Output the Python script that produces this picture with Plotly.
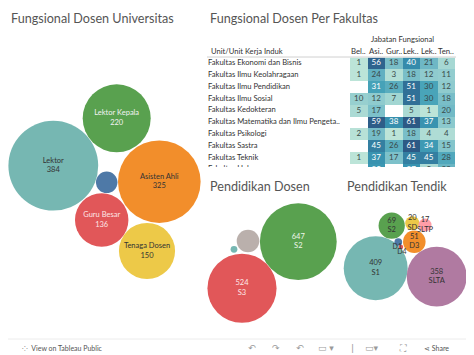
import plotly.graph_objects as go

W, H = 474, 355
OFF = 8  # page body margin of the html page

# ---------------- DATA ----------------
fungsional_labels = ["Lektor", "Lektor Kepala", "Asisten Ahli", "Belum Fungsional", "Guru Besar", "Tenaga Dosen"]
fungsional_values = [384, 220, 325, 22, 136, 150]
fungsional_show = [True, True, True, False, True, True]

fakultas_names = [
    "Fakultas Ekonomi dan Bisnis",
    "Fakultas Ilmu Keolahragaan",
    "Fakultas Ilmu Pendidikan",
    "Fakultas Ilmu Sosial",
    "Fakultas Kedokteran",
    "Fakultas Matematika dan Ilmu Pengeta..",
    "Fakultas Psikologi",
    "Fakultas Sastra",
    "Fakultas Teknik",
    "Fakultas Hukum",
]
jabatan_cols = ["Bel..", "Asi..", "Gur..", "Lek..", "Lek..", "Ten.."]
col_belum = [1, 1, None, 10, 5, None, 2, None, 1, None]
col_asisten = [56, 24, 31, 12, 17, 59, 19, 45, 37, 35]
col_guru = [18, 3, 26, 7, None, 38, 1, 26, 17, None]
col_lektor = [40, 18, 51, 51, 5, 61, 18, 61, 45, 37]
col_lektor_kepala = [21, 12, 30, 30, 1, 37, 4, 34, 45, 5]
col_tenaga = [6, 11, 12, 18, 20, 13, 4, 15, 28, 22]

pend_dosen_labels = ["S2", "S3", "Profesi", "S1"]
pend_dosen_values = [647, 524, 56, 5]
pend_dosen_show = [True, True, False, False]

pend_tendik_labels = ["S1", "SLTA", "S2", "SD", "SLTP", "D3", "D4", "D1"]
pend_tendik_values = [409, 358, 69, 20, 17, 51, 6, 2]
pend_tendik_show = [True, True, True, True, True, True, False, False]

# ---------------- LAYOUT / STYLE ----------------
FONT = "Lato"
TITLE_C = "#555555"
TEXT_C = "#333333"

# packed-bubble layout positions (pixel space of the dashboard)
fungsional_pos = [(53.3, 165.7), (116.7, 118.3), (159.3, 181.7), (106.7, 182.3), (101.7, 220.0), (147.0, 251.0)]
fungsional_colors = ["#76b7b2", "#59a14f", "#f28e2b", "#4e79a7", "#e15759", "#edc948"]
fungsional_tcol = [TEXT_C, "#f2f2f2", TEXT_C, TEXT_C, "#fde6e6", TEXT_C]

dosen_pos = [(298.3, 241.7), (242.0, 288.3), (248.0, 241.0), (234.0, 249.3)]
dosen_colors = ["#59a14f", "#e15759", "#bab0ac", "#76b7b2"]
dosen_tcol = ["#eef6ea", "#fde8e8", TEXT_C, TEXT_C]

tendik_pos = [(375.7, 268.3), (436.7, 276.7), (391.7, 225.7), (412.3, 223.3),
              (425.0, 225.0), (414.3, 241.7), (398.3, 242.0), (401.0, 247.0)]
tendik_colors = ["#76b7b2", "#b07aa1", "#59a14f", "#edc948", "#ff9da7", "#f28e2b", "#4e79a7", "#e15759"]
tendik_tcol = [TEXT_C] * 8

bluteal = ["#bce4d8", "#aedcd5", "#a1d5d2", "#95cecf", "#89c8cc", "#7ec1ca", "#72bac6",
           "#66b2c2", "#59acbe", "#4ba5ba", "#419eb6", "#3b96b2", "#358ead", "#3586a7",
           "#347ea1", "#32779b", "#316f96", "#2f6790", "#2d608a", "#2c5985"]
colorscale = [[i / (len(bluteal) - 1), c] for i, c in enumerate(bluteal)]

fig = go.Figure()


def px(p):
    return (p - OFF) / W


def py(p):
    return 1 - (p - OFF) / H


def bubbles(labels, values, show, pos, colors, tcols, k, value_first):
    texts = []
    for l, v, s in zip(labels, values, show):
        if not s:
            texts.append("")
        elif value_first:
            texts.append(f"{v}<br>{l}")
        else:
            texts.append(f"{l}<br>{v}")
    fig.add_trace(go.Scatter(
        x=[p[0] for p in pos], y=[p[1] for p in pos],
        mode="markers+text", text=texts, textposition="middle center",
        textfont=dict(family=FONT, size=7.5, color=tcols),
        marker=dict(size=values, sizemode="area", sizeref=1 / (2 * k),
                    color=colors, line=dict(width=0), opacity=1),
        hoverinfo="skip", showlegend=False, cliponaxis=False,
        xaxis="x", yaxis="y"))


bubbles(fungsional_labels, fungsional_values, fungsional_show, fungsional_pos,
        fungsional_colors, fungsional_tcol, 5.25, False)
bubbles(pend_dosen_labels, pend_dosen_values, pend_dosen_show, dosen_pos,
        dosen_colors, dosen_tcol, 2.28, True)
bubbles(pend_tendik_labels, pend_tendik_values, pend_tendik_show, tendik_pos,
        tendik_colors, tendik_tcol, 2.5, True)

# small overlapping labels of tiny tendik bubbles
fig.add_trace(go.Scatter(
    x=[tendik_pos[6][0] - 1, tendik_pos[7][0] + 1], y=[tendik_pos[6][1] + 5, tendik_pos[7][1] + 5],
    mode="text", text=[pend_tendik_labels[7], pend_tendik_labels[6]],
    textfont=dict(family=FONT, size=7, color=TEXT_C),
    hoverinfo="skip", showlegend=False, cliponaxis=False, xaxis="x", yaxis="y"))

# ---------------- TABLE (heatmap) ----------------
columns = [col_belum, col_asisten, col_guru, col_lektor, col_lektor_kepala, col_tenaga]
nrows = len(fakultas_names)
z = [[columns[c][r] for c in range(6)] for r in range(nrows)]

fig.add_trace(go.Heatmap(
    z=z, x=list(range(6)), y=list(range(nrows)),
    colorscale=colorscale, zmin=1, zmax=61, showscale=False,
    xgap=0, ygap=0, hoverinfo="skip", xaxis="x2", yaxis="y2"))

tx, ty, tt, tc = [], [], [], []
for r in range(nrows):
    for c in range(6):
        v = z[r][c]
        if v is None:
            continue
        tx.append(c); ty.append(r); tt.append(str(v))
        tc.append("#ffffff" if v > 30 else "#3a4a4a")
fig.add_trace(go.Scatter(
    x=tx, y=ty, text=tt, mode="text", textfont=dict(family=FONT, size=8, color=tc),
    hoverinfo="skip", showlegend=False, cliponaxis=True, xaxis="x2", yaxis="y2"))

fig.add_trace(go.Scatter(
    x=[0] * nrows, y=list(range(nrows)), text=fakultas_names, mode="text",
    textposition="middle right", textfont=dict(family=FONT, size=7.6, color=TEXT_C),
    hoverinfo="skip", showlegend=False, cliponaxis=True, xaxis="x3", yaxis="y2"))

ann = []
for i, c in enumerate(jabatan_cols):
    ann.append(dict(x=i, y=py(51), xref="x2", yref="paper", text=c, showarrow=False,
                    font=dict(family=FONT, size=7.8, color=TEXT_C), xanchor="center", yanchor="middle"))
ann.append(dict(x=2.5, y=py(38.5), xref="x2", yref="paper", text="Jabatan Fungsional", showarrow=False,
                font=dict(family=FONT, size=7.6, color=TEXT_C), xanchor="center", yanchor="middle"))
ann.append(dict(x=px(209), y=py(51), xref="paper", yref="paper", text="Unit/Unit Kerja Induk", showarrow=False,
                font=dict(family=FONT, size=7.6, color=TEXT_C), xanchor="left", yanchor="middle"))

titles = [("Fungsional Dosen Universitas", 9, 19), ("Fungsional Dosen Per Fakultas", 208, 19),
          ("Pendidikan Dosen", 208, 186), ("Pendidikan Tendik", 345, 186)]
for t, x, y in titles:
    ann.append(dict(x=px(x), y=py(y), xref="paper", yref="paper", text=t, showarrow=False,
                    font=dict(family=FONT, size=12.6, color=TITLE_C), xanchor="left", yanchor="middle"))

# toolbar
ann.append(dict(x=px(20), y=py(348), xref="paper", yref="paper", text="⁘  View on Tableau Public",
                showarrow=False, font=dict(family=FONT, size=7, color="#555555"),
                xanchor="left", yanchor="middle"))
for sym, x in [("↶", 252), ("↷", 276), ("↶", 300), ("▭ ▾", 326), ("|", 352), ("▭▾", 372), ("⛶", 403)]:
    ann.append(dict(x=px(x), y=py(348), xref="paper", yref="paper", text=sym, showarrow=False,
                    font=dict(family="DejaVu Sans", size=9, color="#9a9a9a"), xanchor="center", yanchor="middle"))
ann.append(dict(x=px(422), y=py(348), xref="paper", yref="paper", text="⋖ Share",
                showarrow=False, font=dict(family=FONT, size=7, color="#555555"),
                xanchor="left", yanchor="middle"))

shapes = [
    dict(type="line", xref="paper", yref="paper", x0=px(207), x1=px(456), y0=py(57), y1=py(57),
         line=dict(color="#d0d0d0", width=1)),
    dict(type="line", xref="paper", yref="paper", x0=0, x1=1, y0=py(339), y1=py(339),
         line=dict(color="#ececec", width=1)),
]

noax = dict(visible=False, showgrid=False, zeroline=False, fixedrange=True)
fig.update_layout(
    width=W, height=H, margin=dict(l=0, r=0, t=0, b=0),
    paper_bgcolor="white", plot_bgcolor="rgba(0,0,0,0)",
    xaxis=dict(noax, domain=[0, 1], range=[OFF, W + OFF]),
    yaxis=dict(noax, domain=[0, 1], range=[H + OFF, OFF]),
    xaxis2=dict(noax, domain=[px(350), px(455)], range=[-0.5, 5.5], anchor="y2"),
    yaxis2=dict(noax, domain=[py(167), py(57.5)], range=[(167 - 57.5) / 11.8 - 0.5, -0.5], anchor="x2"),
    xaxis3=dict(noax, domain=[px(208), px(349)], range=[0, 1], anchor="y2"),
    annotations=ann, shapes=shapes, showlegend=False,
)

fig.write_html("out.html")
